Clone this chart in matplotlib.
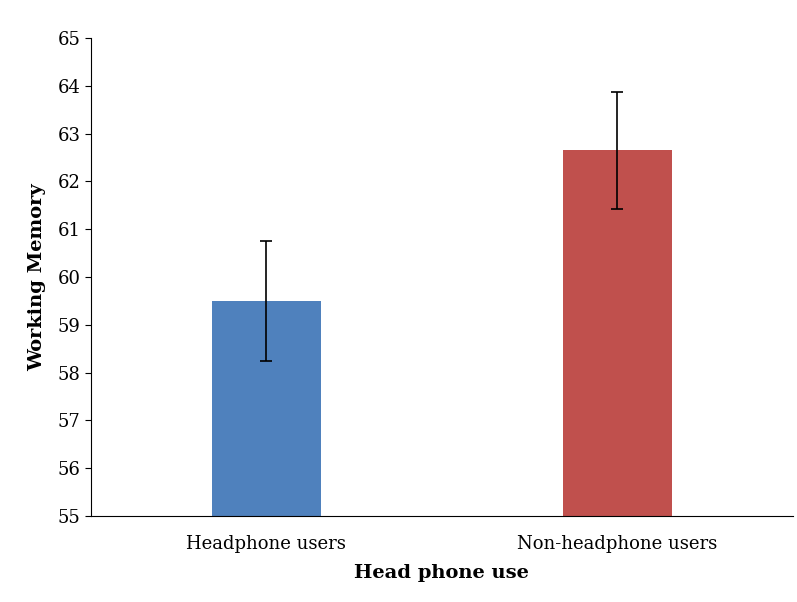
import matplotlib
matplotlib.use("Agg")
import matplotlib.pyplot as plt

categories = ["Headphone users", "Non-headphone users"]
values = [59.5, 62.65]
errors = [1.25, 1.22]
colors = ["#4F81BD", "#C0504D"]

plt.rcParams['font.family'] = ['DejaVu Serif']
fig = plt.figure(figsize=(7.97, 6.02), dpi=100)
ax = fig.add_axes([0.114, 0.143, 0.881, 0.794])
x = range(len(categories))
ax.bar(x, [v - 55 for v in values], bottom=55, width=0.31, color=colors,
       yerr=errors, error_kw=dict(ecolor="black", elinewidth=1.2, capsize=4, capthick=1.2))
ax.set_xlim(-0.5, 1.5)
ax.set_ylim(55, 65)
ax.set_yticks(range(55, 66))
ax.set_xticks(list(x))
ax.set_xticklabels(categories, fontsize=13)
ax.tick_params(axis='x', length=0, pad=14)
ax.tick_params(axis='y', labelsize=13, length=4, direction='out')
for s in ["top", "right"]:
    ax.spines[s].set_visible(False)
ax.set_xlabel("Head phone use", fontsize=14, fontweight="bold", labelpad=8)
ax.set_ylabel("Working Memory", fontsize=14, fontweight="bold", labelpad=8)
fig.savefig("out.png", dpi=100)
